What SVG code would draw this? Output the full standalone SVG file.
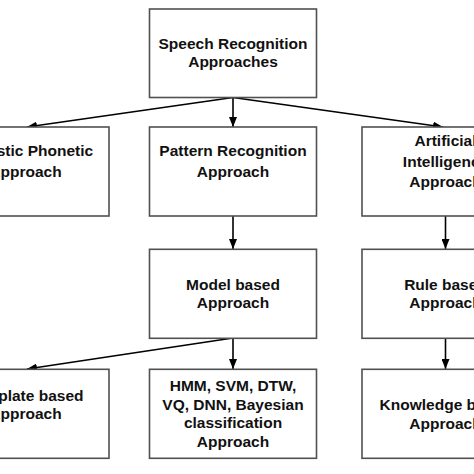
<svg xmlns="http://www.w3.org/2000/svg" width="474" height="474" viewBox="0 0 474 474">
<style>
.box{fill:#fff;stroke:#505050;stroke-width:1.6}
.t{font-family:"Liberation Sans",Arial,sans-serif;font-weight:bold;font-size:15.5px;fill:#111;text-anchor:middle}
.c{stroke:#000;stroke-width:1.6;fill:none;marker-end:url(#ah)}
</style>
<defs>
<marker id="ah" viewBox="0 0 10 8" refX="10" refY="4" markerWidth="10" markerHeight="8" markerUnits="userSpaceOnUse" orient="auto">
<path d="M0,0 L10,4 L0,8 Z" fill="#000"/>
</marker>
</defs>
<rect width="474" height="474" fill="#fff"/>
<g id="connectors">
<path class="c" d="M233,97.5 L27,127"/>
<path class="c" d="M233,97.5 L233,127"/>
<path class="c" d="M233,97.5 L443,127"/>
<path class="c" d="M233,216 L233,249"/>
<path class="c" d="M445.5,216 L445.5,249"/>
<path class="c" d="M233,338 L27,369"/>
<path class="c" d="M233,338 L233,369"/>
<path class="c" d="M445.5,338 L445.5,369"/>
</g>
<g id="n-root">
<rect class="box" x="149.5" y="9" width="167" height="88.5"/>
<text class="t" x="233" y="49.3">Speech Recognition</text>
<text class="t" x="233" y="67.3">Approaches</text>
</g>
<g id="n-acoustic">
<rect class="box" x="-58" y="127" width="167" height="89"/>
<text class="t" x="25.5" y="155.7">Acoustic Phonetic</text>
<text class="t" x="25.5" y="176.7">Approach</text>
</g>
<g id="n-pattern">
<rect class="box" x="149.5" y="127" width="167" height="89"/>
<text class="t" x="233" y="155.7">Pattern Recognition</text>
<text class="t" x="233" y="176.7">Approach</text>
</g>
<g id="n-ai">
<rect class="box" x="362" y="127" width="167" height="89"/>
<text class="t" x="445.5" y="145.7">Artificial</text>
<text class="t" x="445.5" y="166.7">Intelligence</text>
<text class="t" x="445.5" y="187.3">Approach</text>
</g>
<g id="n-model">
<rect class="box" x="149.5" y="249.3" width="167" height="89"/>
<text class="t" x="233" y="290">Model based</text>
<text class="t" x="233" y="308.3">Approach</text>
</g>
<g id="n-rule">
<rect class="box" x="362" y="249.3" width="167" height="89"/>
<text class="t" x="445.5" y="290">Rule based</text>
<text class="t" x="445.5" y="308.3">Approach</text>
</g>
<g id="n-template">
<rect class="box" x="-58" y="369.3" width="167" height="89"/>
<text class="t" x="25.5" y="400.7">Template based</text>
<text class="t" x="25.5" y="419">Approach</text>
</g>
<g id="n-hmm">
<rect class="box" x="149.5" y="369.3" width="167" height="89"/>
<text class="t" x="233" y="391">HMM, SVM, DTW,</text>
<text class="t" x="233" y="409.5">VQ, DNN, Bayesian</text>
<text class="t" x="233" y="428">classification</text>
<text class="t" x="233" y="446.7">Approach</text>
</g>
<g id="n-knowledge">
<rect class="box" x="362" y="369.3" width="167" height="89"/>
<text class="t" x="445.5" y="410">Knowledge based</text>
<text class="t" x="445.5" y="429">Approach</text>
</g>
</svg>
